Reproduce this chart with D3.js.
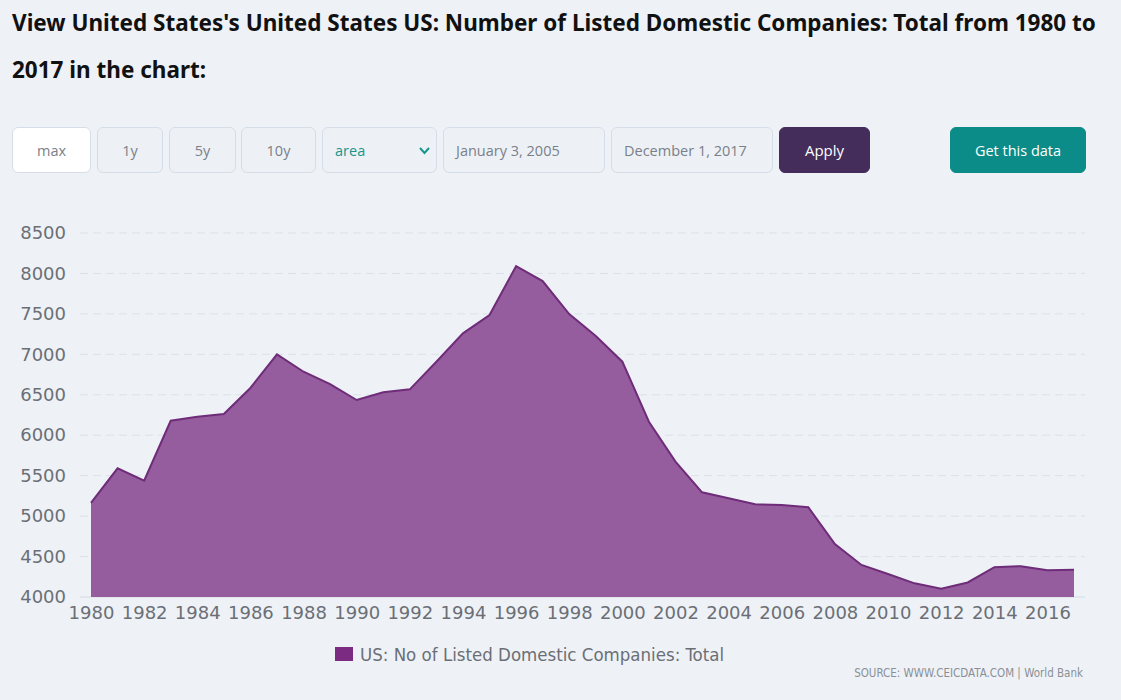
<!DOCTYPE html>
<html>
<head>
<meta charset="utf-8">
<script src="https://cdn.jsdelivr.net/npm/d3@7"></script>
<style>
  body { margin: 0; background: #eef2f7; width: 1121px; height: 700px; overflow: hidden; font-family: "Open Sans", "Noto Sans", sans-serif; position: relative; }
  h1 { position: absolute; left: 12px; top: -1px; margin: 0; width: 1109px; font-size: 22.5px; font-weight: 700; line-height: 47px; color: #111; font-family: "Noto Sans", "Open Sans", sans-serif; }
  .btn { position: absolute; top: 127px; height: 46px; box-sizing: border-box; border: 1px solid #d5dee8; border-radius: 6px; background: #edf1f6; color: #7a8089; font-size: 14.5px; display: flex; align-items: center; justify-content: center; }
  .field { justify-content: flex-start; padding-left: 12px; }
  #chart { position: absolute; left: 0; top: 0; }
</style>
</head>
<body>
<h1>View United States's United States US: Number of Listed Domestic Companies: Total from 1980 to 2017 in the chart:</h1>
<div class="btn" style="left:12px;width:79px;background:#fff;">max</div>
<div class="btn" style="left:97px;width:66px;">1y</div>
<div class="btn" style="left:169px;width:67px;">5y</div>
<div class="btn" style="left:241px;width:75px;">10y</div>
<div class="btn field" style="left:322px;width:115px;color:#16968c;">area<svg style="position:absolute;left:96px;top:19px" width="11" height="8"><path d="M1 1 L5.5 6 L10 1" fill="none" stroke="#16968c" stroke-width="2"/></svg></div>
<div class="btn field" style="left:443px;width:162px;">January 3, 2005</div>
<div class="btn field" style="left:611px;width:162px;">December 1, 2017</div>
<div class="btn" style="left:779px;width:91px;background:#452d5b;border-color:#452d5b;color:#fff;font-size:15px;">Apply</div>
<div class="btn" style="left:950px;width:136px;background:#0b8c89;border-color:#0b8c89;color:#fff;">Get this data</div>
<svg id="chart" width="1121" height="700"></svg>
<script>
// US: No of Listed Domestic Companies: Total, yearly
var years = d3.range(1980, 2018);
var values = [5163, 5591, 5438, 6179, 6229, 6262, 6584, 7000, 6785, 6633,
              6435, 6530, 6567, 6909, 7260, 7486, 8090, 7906, 7498, 7226,
              6909, 6167, 5673, 5294, 5220, 5146, 5137, 5109, 4655, 4396,
              4284, 4169, 4102, 4180, 4369, 4381, 4331, 4336];
var yTicks = [4000, 4500, 5000, 5500, 6000, 6500, 7000, 7500, 8000, 8500];
var xTicks = d3.range(1980, 2017, 2);
var seriesName = "US: No of Listed Domestic Companies: Total";
var source = "SOURCE: WWW.CEICDATA.COM | World Bank";

var data = years.map(function (yr, i) { return { year: yr, value: values[i] }; });

var svg = d3.select("#chart");
var plotLeft = 91, plotRight = 1074, plotTop = 233, plotBottom = 597;

var x = d3.scaleLinear().domain([1980, 2017]).range([plotLeft, plotRight]);
var y = d3.scaleLinear().domain([4000, 8500]).range([plotBottom, plotTop]);

var axisFont = "'DejaVu Sans', sans-serif";

// grid lines
svg.append("g")
  .selectAll("line")
  .data(yTicks.slice(1))
  .enter()
  .append("line")
    .attr("x1", 80).attr("x2", 1085)
    .attr("y1", d => y(d)).attr("y2", d => y(d))
    .style("stroke", "#dbe1e8")
    .style("stroke-dasharray", "8,5");

svg.append("line")
  .attr("x1", 80).attr("x2", 1085)
  .attr("y1", plotBottom).attr("y2", plotBottom)
  .style("stroke", "#d3dae2");

// area + line
var area = d3.area()
  .x(d => x(d.year))
  .y0(y(4000))
  .y1(d => y(d.value));

var line = d3.line()
  .x(d => x(d.year))
  .y(d => y(d.value));

svg.append("path")
  .datum(data)
  .attr("d", area)
  .style("fill", "#955c9e");

svg.append("path")
  .datum(data)
  .attr("d", line)
  .style("fill", "none")
  .style("stroke", "#6e2c79")
  .style("stroke-width", 2);

// y axis
var yAxis = svg.append("g")
  .attr("transform", "translate(66,0)")
  .call(d3.axisLeft(y).tickValues(yTicks).tickSize(0).tickPadding(0).tickFormat(d3.format("d")));
yAxis.select(".domain").remove();
yAxis.selectAll("text")
  .style("font-family", axisFont)
  .style("font-size", "18px")
  .style("fill", "#6b6f75");

// x axis
var xAxis = svg.append("g")
  .attr("transform", "translate(0," + (plotBottom + 9) + ")")
  .call(d3.axisBottom(x).tickValues(xTicks).tickSize(0).tickPadding(0).tickFormat(d3.format("d")));
xAxis.select(".domain").remove();
xAxis.selectAll("text")
  .style("font-family", axisFont)
  .style("font-size", "18px")
  .style("fill", "#6b6f75");

// legend
svg.append("rect")
  .attr("x", 335).attr("y", 647)
  .attr("width", 18).attr("height", 14)
  .style("fill", "#7b2c82");

svg.append("text")
  .attr("x", 360).attr("y", 661)
  .style("font-family", "'Liberation Sans Narrow', 'DejaVu Sans Condensed', sans-serif")
  .style("font-size", "18.5px")
  .style("fill", "#6b6f75")
  .text(seriesName);

svg.append("text")
  .attr("x", 1083).attr("y", 677)
  .style("text-anchor", "end")
  .style("font-family", "'Liberation Sans Narrow', 'DejaVu Sans Condensed', sans-serif")
  .style("font-size", "11.5px")
  .style("fill", "#8a8f96")
  .text(source);
</script>
</body>
</html>
